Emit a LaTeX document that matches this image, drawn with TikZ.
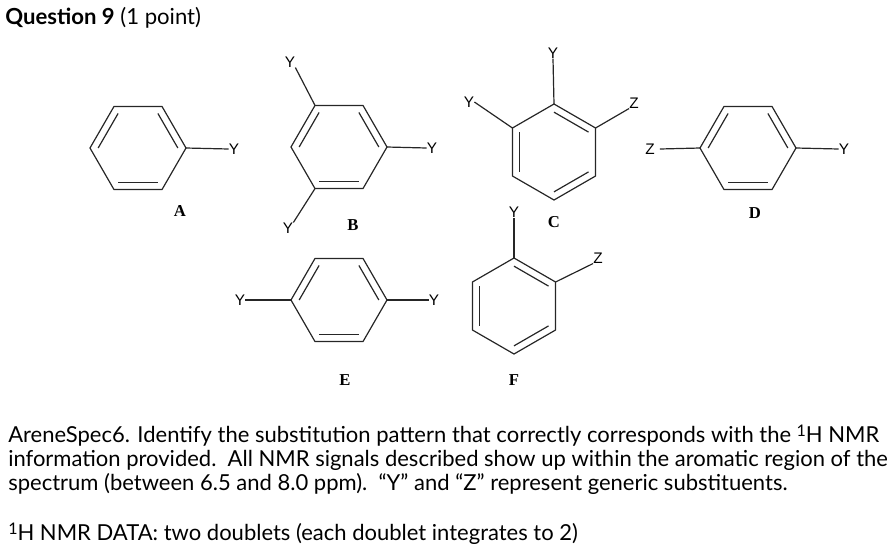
\documentclass[tikz,border=0pt]{standalone}
\usepackage{fontspec}
\setmainfont{Lato}
\newfontfamily\serifff{Liberation Serif}
\newfontfamily\subff{Liberation Sans}
\usetikzlibrary{calc}
\newcommand\ring[4]{%
  \coordinate (#1c) at (#2,#3);
  \foreach \i in {1,...,6} \coordinate (#1\i) at ($(#1c)+({#4+60*(\i-1)}:48)$);
  \draw[bond] (#11)--(#12)--(#13)--(#14)--(#15)--(#16)--cycle;}
\newcommand\dbl[3]{\draw[bond] ($(#1#2)!0.17!(#1c)$)--($(#1#3)!0.17!(#1c)$);}
\newcommand\flatdbl[1]{\dbl{#1}{4}{5}\dbl{#1}{6}{1}\dbl{#1}{2}{3}}
\newcommand\pointdbl[1]{\dbl{#1}{1}{2}\dbl{#1}{3}{4}\dbl{#1}{5}{6}}
\newcommand\supone{\raisebox{0.55ex}{\fontsize{12}{12}\selectfont 1}}
\begin{document}
\begin{tikzpicture}[x=0.75pt,y=-0.75pt,
  bond/.style={line width=0.9pt,black!85},
  sub/.style={font=\subff\fontsize{11.5}{12}\selectfont,inner sep=0pt},
  lab/.style={font=\serifff\bfseries\fontsize{12.5}{12}\selectfont,inner sep=0pt},
  txt/.style={font=\fontsize{16.5}{20}\selectfont,anchor=west,inner sep=0pt}]
\useasboundingbox (0,0) rectangle (890,551);
\node[txt,font=\fontsize{16.6}{20}\selectfont] (q) at (5,18) {\textbf{Question 9} (1 point)};
% A
\ring{A}{138}{148}{0}\flatdbl{A}
\node[sub] (Ay) at (234,149) {Y};
\draw[bond] (A1)--(Ay.west);
\node[lab] (Al) at (180,211) {A};
% B
\ring{B}{339}{147}{0}\flatdbl{B}
\node[sub] (By1) at (290,62) {Y};
\node[sub] (By2) at (432,148) {Y};
\node[sub] (By3) at (288,228) {Y};
\draw[bond] (B5)--(By1.south east);
\draw[bond] (B1)--(By2.west);
\draw[bond] (B3)--(By3.north east);
\node[lab] (Bl) at (353,225) {B};
% C
\ring{C}{554}{152}{-90}\pointdbl{C}
\node[sub] (Cy1) at (553,53) {Y};
\node[sub] (Cy2) at (469,102) {Y};
\node[sub] (Cz) at (634,103) {Z};
\draw[bond] (C1)--(Cy1.south);
\draw[bond] (C6)--(Cy2.east);
\draw[bond] (C2)--(Cz.south west);
\node[lab] (Cl) at (554,222) {C};
% D
\ring{D}{748}{148}{0}\flatdbl{D}
\node[sub] (Dz) at (650,149) {Z};
\node[sub] (Dy) at (844,149) {Y};
\coordinate (dz1) at ($(Dz.east)+(5,0)$);
\draw[bond] (dz1)--(D4);
\draw[bond] (D1)--(Dy.west);
\node[lab] (Dl) at (755,213) {D};
% E
\ring{E}{339}{300}{0}\flatdbl{E}
\node[sub] (Ey1) at (240,300) {Y};
\node[sub] (Ey2) at (434,300) {Y};
\draw[bond] (Ey1.east)--(E4);
\draw[bond] (E1)--(Ey2.west);
\node[lab] (El) at (345,380) {E};
% F
\ring{F}{514}{306}{-90}\pointdbl{F}
\node[sub] (Fy) at (514,212) {Y};
\node[sub] (Fz) at (598,258) {Z};
\draw[bond] (F1)--(Fy.south);
\draw[bond] (F2)--(Fz.south west);
\node[lab] (Fl) at (514,380) {F};
% text
\node[txt] (t1) at (8,436) {AreneSpec6. Identify the substitution pattern that correctly corresponds with the \supone H NMR};
\node[txt] (t2) at (8,460) {information provided.\ \ All NMR signals described show up within the aromatic region of the};
\node[txt] (t3) at (8,484) {spectrum (between 6.5 and 8.0 ppm).\ \ “Y” and “Z” represent generic substituents.};
\node[txt] (t4) at (8,534) {\supone H NMR DATA: two doublets (each doublet integrates to 2)};
\end{tikzpicture}
\end{document}
